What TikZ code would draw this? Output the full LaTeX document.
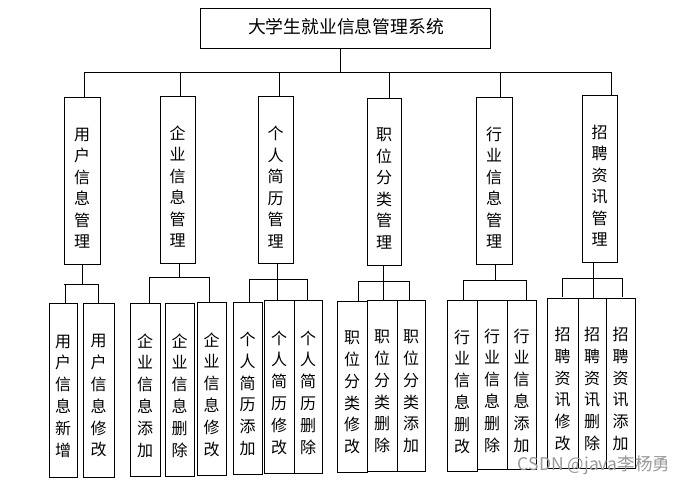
\documentclass[tikz,border=0pt]{standalone}
\usepackage{fontspec}
\newfontfamily\cjk{Noto Sans CJK SC}
\begin{document}
\begin{tikzpicture}[x=1pt,y=-1pt,
  box/.style={draw=black,line width=0.9pt,inner sep=0pt},
  lbl/.style={inner sep=0pt,align=center,font=\cjk\fontsize{16}{21.5}\selectfont},
  lbl3/.style={inner sep=0pt,align=center,font=\cjk\fontsize{16}{21.8}\selectfont},
  conn/.style={draw=black,line width=0.9pt}]
\useasboundingbox[fill=white] (0,0) rectangle (688,482);
% title
\node[box,minimum width=290pt,minimum height=40pt] (top) at (345,28) {};
\node[inner sep=0pt,font=\cjk\fontsize{17.8}{20}\selectfont] (toptxt) at (346,27) {大学生就业信息管理系统};
% level 2 boxes
\newcommand{\lvtwo}[5]{%
  \node[box,minimum width=#3pt,minimum height=167pt] (#1) at (#2,#4) {};
  \node[lbl] (#1t) at ([yshift=-7pt]#1.center) {#5};}
\lvtwo{b1}{82}{36}{181}{用\\户\\信\\息\\管\\理}
\lvtwo{b2}{177.5}{35}{179.5}{企\\业\\信\\息\\管\\理}
\lvtwo{b3}{275.5}{35}{180}{个\\人\\简\\历\\管\\理}
\lvtwo{b4}{384}{34}{181.5}{职\\位\\分\\类\\管\\理}
\lvtwo{b5}{494}{36}{180.5}{行\\业\\信\\息\\管\\理}
\lvtwo{b6}{599.5}{35}{178.5}{招\\聘\\资\\讯\\管\\理}
% level 3 boxes
\newcommand{\lvthree}[6]{%
  \node[box,minimum width=#3pt,minimum height=#5pt] (#1) at (#2,#4) {};
  \node[lbl3] (#1t) at ([yshift=-6pt]#1.center) {#6};}
\lvthree{c11}{63}{28}{390}{174}{用\\户\\信\\息\\新\\增}
\lvthree{c12}{98.5}{31}{390}{174}{用\\户\\信\\息\\修\\改}
\lvthree{c21}{145}{30}{389.5}{173}{企\\业\\信\\息\\添\\加}
\lvthree{c22}{179.5}{29}{389.5}{173}{企\\业\\信\\息\\删\\除}
\lvthree{c23}{211.5}{29}{388.5}{173}{企\\业\\信\\息\\修\\改}
\lvthree{c31}{247.5}{29}{388}{172}{个\\人\\简\\历\\添\\加}
\lvthree{c32}{279}{30}{386.5}{173}{个\\人\\简\\历\\修\\改}
\lvthree{c33}{308}{28}{386.5}{173}{个\\人\\简\\历\\删\\除}
\lvthree{c41}{352}{30}{386.5}{171}{职\\位\\分\\类\\修\\改}
\lvthree{c42}{382}{30}{385.5}{171}{职\\位\\分\\类\\删\\除}
\lvthree{c43}{411}{28}{385.5}{171}{职\\位\\分\\类\\添\\加}
\lvthree{c51}{462}{30}{385.5}{171}{行\\业\\信\\息\\删\\改}
\lvthree{c52}{492}{30}{384.5}{169}{行\\业\\信\\息\\删\\除}
\lvthree{c53}{521.5}{29}{384.5}{169}{行\\业\\信\\息\\添\\加}
\lvthree{c61}{562.5}{31}{383}{170}{招\\聘\\资\\讯\\修\\改}
\lvthree{c62}{592}{28}{383}{170}{招\\聘\\资\\讯\\删\\除}
\lvthree{c63}{620.5}{29}{383}{170}{招\\聘\\资\\讯\\添\\加}
% top connectors
\coordinate (bar) at (0,72);
\draw[conn] (340,0 |- top.south) -- (340,0 |- bar);
\draw[conn] (84,72) -- (612,72);
\foreach \xx/\nn in {84/b1,180/b2,279/b3,389/b4,500/b5,611/b6}
  \draw[conn] (\xx,72) -- (\xx,0 |- \nn.north);
% g1
\draw[conn] (82,0 |- b1.south) -- (82,284);
\draw[conn] (64,284) -- (98,284);
\draw[conn] (65,284) -- (65,0 |- c11.north);
\draw[conn] (98,284) -- (98,0 |- c12.north);
% g2
\draw[conn] (179,0 |- b2.south) -- (179,277);
\draw[conn] (149,277) -- (209,277);
\draw[conn] (149,277) -- (149,0 |- c21.north);
\draw[conn] (209,277) -- (209,0 |- c23.north);
% g3
\draw[conn] (277,0 |- b3.south) -- (277,0 |- c32.north);
\draw[conn] (249,279) -- (307,279);
\draw[conn] (249,279) -- (249,0 |- c31.north);
\draw[conn] (307,279) -- (307,0 |- c33.north);
% g4
\draw[conn] (383,0 |- b4.south) -- (383,0 |- c42.north);
\draw[conn] (358,281) -- (409,281);
\draw[conn] (358,281) -- (358,0 |- c41.north);
\draw[conn] (409,281) -- (409,0 |- c43.north);
% g5
\draw[conn] (495,0 |- b5.south) -- (495,280);
\draw[conn] (463,280) -- (526,280);
\draw[conn] (463,280) -- (463,0 |- c51.north);
\draw[conn] (526,280) -- (526,0 |- c53.north);
% g6
\draw[conn] (593,0 |- b6.south) -- (593,0 |- c62.north);
\draw[conn] (562,278) -- (622,278);
\draw[conn] (562,278) -- (562,297);
\draw[conn] (622,278) -- (622,297);
% watermark
\node[inner sep=0pt,text=black!40,font=\cjk\fontsize{17.5}{19}\selectfont] (wm) at (594,465) {CSDN @java李杨勇};
\end{tikzpicture}
\end{document}
